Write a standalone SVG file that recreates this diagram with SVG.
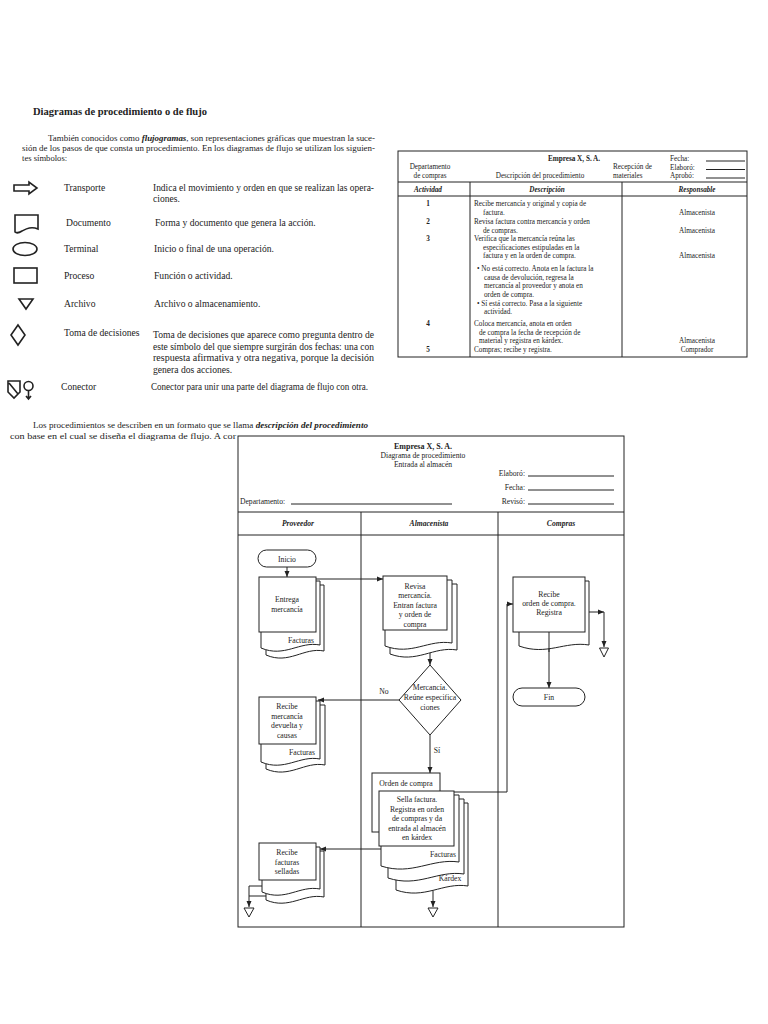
<svg xmlns="http://www.w3.org/2000/svg" width="768" height="1024" viewBox="0 0 768 1024">
<defs>
<style>
text{font-family:"Liberation Serif","DejaVu Serif",serif;fill:#222}
.t{font-size:8.6px}
.l{font-size:9.6px}
.b{font-weight:bold}
.bi{font-weight:bold;font-style:italic}
.tb{font-size:7.2px}
.f{font-size:7.7px}
.h{font-size:7.6px}
.c{text-anchor:middle}
.r{text-anchor:end}
.ln{stroke:#222;stroke-width:1;fill:none}
.sh{stroke:#222;stroke-width:1;fill:#fff}
.sym{stroke:#222;stroke-width:1.6;fill:none}
</style>
<marker id="ah" markerWidth="6" markerHeight="6" refX="6" refY="3" orient="auto" markerUnits="userSpaceOnUse"><path d="M0,0.5 L6,3 L0,5.5 z" fill="#222"/></marker>
</defs>
<rect width="768" height="1024" fill="#fff"/>

<!-- Intro text -->
<g id="intro">
<text x="33" y="115" class="b" font-size="10.5">Diagramas de procedimiento o de flujo</text>
<text x="48" y="141" class="t" textLength="327" lengthAdjust="spacingAndGlyphs">También conocidos como <tspan class="bi">flujogramas</tspan>, son representaciones gráficas que muestran la suce-</text>
<text x="22" y="151" class="t" textLength="353" lengthAdjust="spacingAndGlyphs">sión de los pasos de que consta un procedimiento. En los diagramas de flujo se utilizan los siguien-</text>
<text x="22" y="161" class="t">tes símbolos:</text>
</g>

<!-- Legend -->
<g id="legend-transporte">
<polygon class="sym" points="14,185 29,185 29,182 37,188 29,194 29,191 14,191"/>
<text x="64" y="191" class="l">Transporte</text>
<text x="153" y="191" class="l" textLength="221" lengthAdjust="spacingAndGlyphs">Indica el movimiento y orden en que se realizan las opera-</text>
<text x="153" y="202" class="l">ciones.</text>
</g>
<g id="legend-documento">
<path class="sym" d="M15,215 H38 V229 C31,226 26,229 22,231 C19,233 16,233 15,232 Z"/>
<text x="66" y="226" class="l">Documento</text>
<text x="155" y="226" class="l">Forma y documento que genera la acción.</text>
</g>
<g id="legend-terminal">
<ellipse class="sym" cx="25" cy="249" rx="12" ry="6.5"/>
<text x="64" y="252" class="l">Terminal</text>
<text x="154" y="252" class="l">Inicio o final de una operación.</text>
</g>
<g id="legend-proceso">
<rect class="sym" x="14" y="268" width="23" height="15"/>
<text x="64" y="279" class="l">Proceso</text>
<text x="154" y="279" class="l">Función o actividad.</text>
</g>
<g id="legend-archivo">
<polygon class="sym" points="19,299 33,299 26,309"/>
<text x="64" y="307" class="l">Archivo</text>
<text x="154" y="307" class="l">Archivo o almacenamiento.</text>
</g>
<g id="legend-decision">
<polygon class="sym" points="18,325 25,335 18,345 11,335"/>
<text x="64" y="336" class="l">Toma de decisiones</text>
<text x="153" y="338" class="l" textLength="221" lengthAdjust="spacingAndGlyphs">Toma de decisiones que aparece como pregunta dentro de</text>
<text x="153" y="349.5" class="l" textLength="221" lengthAdjust="spacingAndGlyphs">este símbolo del que siempre surgirán dos fechas: una con</text>
<text x="153" y="361" class="l" textLength="221" lengthAdjust="spacingAndGlyphs">respuesta afirmativa y otra negativa, porque la decisión</text>
<text x="153" y="372.5" class="l">genera dos acciones.</text>
</g>
<g id="legend-conector">
<path class="sym" d="M8,381 H20 V392 L14,398 L8,392 Z M9,383 L18,394"/>
<circle class="sym" cx="28.5" cy="386" r="4.5"/>
<path class="sym" d="M28.5,390.5 V399 M26,396 L28.5,399 L31,396"/>
<text x="61" y="390" class="l">Conector</text>
<text x="151" y="390" class="l" textLength="217" lengthAdjust="spacingAndGlyphs">Conector para unir una parte del diagrama de flujo con otra.</text>
</g>
<g id="outro">
<text x="33" y="428" class="t" textLength="335" lengthAdjust="spacingAndGlyphs">Los procedimientos se describen en un formato que se llama <tspan class="bi">descripción del procedimiento</tspan></text>
<text x="10" y="439" class="t" textLength="226" lengthAdjust="spacingAndGlyphs">con base en el cual se diseña el diagrama de flujo. A cor</text>
</g>

<!-- Description table -->
<g id="tabla">
<rect class="ln" x="398" y="151" width="349" height="206"/>
<line class="ln" x1="398" y1="182" x2="747" y2="182"/>
<line class="ln" x1="398" y1="196" x2="747" y2="196"/>
<line class="ln" x1="470" y1="182" x2="470" y2="357"/>
<line class="ln" x1="622" y1="182" x2="622" y2="357"/>
<text x="430" y="169" class="tb c">Departamento</text>
<text x="430" y="177.5" class="tb c">de compras</text>
<text x="574" y="161" class="tb c b" font-size="7.6px">Empresa X, S. A.</text>
<text x="540" y="178" class="tb c">Descripción del procedimiento</text>
<text x="613" y="169" class="tb">Recepción de</text>
<text x="613" y="178" class="tb">materiales</text>
<text x="670" y="161" class="tb">Fecha:</text>
<text x="670" y="169.5" class="tb">Elaboró:</text>
<text x="670" y="178" class="tb">Aprobó:</text>
<path class="ln" d="M706,161 H745 M706,169.5 H745 M706,178 H745" stroke-width="0.8"/>
<text x="428" y="191.5" class="tb c bi">Actividad</text>
<text x="547" y="191.5" class="tb c bi">Descripción</text>
<text x="697" y="191.5" class="tb c bi">Responsable</text>
<g class="tb">
<text x="428" y="206" class="c b">1</text>
<text x="428" y="224" class="c b">2</text>
<text x="428" y="241" class="c b">3</text>
<text x="428" y="326" class="c b">4</text>
<text x="428" y="351.5" class="c b">5</text>
<text x="474" y="206">Recibe mercancía y original y copia de</text>
<text x="483" y="214.5">factura.</text>
<text x="474" y="224">Revisa factura contra mercancía y orden</text>
<text x="483" y="232.5">de compras.</text>
<text x="474" y="241">Verifica que la mercancía reúna las</text>
<text x="483" y="249.5">especificaciones estipuladas en la</text>
<text x="483" y="258">factura y en la orden de compra.</text>
<text x="477" y="271">• No está correcto. Anota en la factura la</text>
<text x="484" y="279.5">causa de devolución, regresa la</text>
<text x="484" y="288">mercancía al proveedor y anota en</text>
<text x="484" y="296.5">orden de compra.</text>
<text x="477" y="305.5">• Sí está correcto. Pasa a la siguiente</text>
<text x="484" y="314">actividad.</text>
<text x="474" y="326">Coloca mercancía, anota en orden</text>
<text x="479" y="334.5">de compra la fecha de recepción de</text>
<text x="479" y="343">material y registra en kárdex.</text>
<text x="474" y="351.5">Compras; recibe y registra.</text>
<text x="697" y="214.5" class="c">Almacenista</text>
<text x="697" y="232.5" class="c">Almacenista</text>
<text x="697" y="258" class="c">Almacenista</text>
<text x="697" y="343" class="c">Almacenista</text>
<text x="697" y="351.5" class="c">Comprador</text>
</g>
</g>

<!-- Flowchart frame -->
<g id="marco">
<rect x="238" y="436" width="386" height="491" fill="#fff" stroke="#222" stroke-width="1"/>
<line class="ln" x1="238" y1="512" x2="624" y2="512"/>
<line class="ln" x1="238" y1="535" x2="624" y2="535"/>
<line class="ln" x1="361" y1="512" x2="361" y2="927"/>
<line class="ln" x1="498" y1="512" x2="498" y2="927"/>
<text x="423" y="449" class="c b" font-size="8px">Empresa X, S. A.</text>
<text x="423" y="458" class="h c">Diagrama de procedimiento</text>
<text x="423" y="467" class="h c">Entrada al almacén</text>
<text x="525" y="476" class="h r">Elaboró:</text>
<text x="525" y="490" class="h r">Fecha:</text>
<text x="525" y="504" class="h r">Revisó:</text>
<text x="240" y="504" class="h">Departamento:</text>
<path class="ln" d="M528,476 H614 M528,490 H614 M528,504 H614 M291,504 H452" stroke-width="0.8"/>
<text x="298" y="526" class="h c bi">Proveedor</text>
<text x="429" y="526" class="h c bi">Almacenista</text>
<text x="561" y="526" class="h c bi">Compras</text>
</g>

<!-- Connectors -->
<g id="conectores" class="ln">
<line x1="287" y1="567" x2="287" y2="577" marker-end="url(#ah)"/>
<line x1="316" y1="579" x2="383" y2="579" marker-end="url(#ah)"/>
<line x1="430" y1="651" x2="430" y2="665" marker-end="url(#ah)"/>
<line x1="399" y1="700" x2="318" y2="700" marker-end="url(#ah)"/>
<line x1="430" y1="735" x2="430" y2="773" marker-end="url(#ah)"/>
<polyline points="440,792 507,792 507,604 513,604" marker-end="url(#ah)"/>
<line x1="549" y1="632" x2="549" y2="688" marker-end="url(#ah)"/>
<line x1="589" y1="612" x2="604" y2="612" marker-end="url(#ah)"/>
<line x1="604" y1="612" x2="604" y2="647" marker-end="url(#ah)"/>
<line x1="381" y1="849" x2="320" y2="849" marker-end="url(#ah)"/>
<line x1="433" y1="889" x2="433" y2="907" marker-end="url(#ah)"/>
<path d="M266,896 H249 M262,886 H249 V907" marker-end="url(#ah)"/>
</g>
<g id="archivos">
<polygon class="sh" points="599.5,648 608.5,648 604,657"/>
<polygon class="sh" points="428,908 438,908 433,917"/>
<polygon class="sh" points="244,908 254,908 249,917"/>
</g>

<!-- Nodes -->
<g id="inicio">
<rect class="sh" x="258" y="550" width="58" height="17" rx="8.5"/>
<text x="287" y="561.5" class="f c">Inicio</text>
</g>
<g id="entrega">
<path class="sh" d="M266,585 H324 V651 C303.7,647 289.2,665 266,655 Z"/>
<path class="sh" d="M261,581 H320 V645 C299.4,641 284.6,658 261,648 Z"/>
<rect class="sh" x="259" y="577" width="57" height="55"/>
<text x="287" y="602" class="f c">Entrega</text>
<text x="287" y="611.5" class="f c">mercancía</text>
<text x="301" y="643" class="f c">Facturas</text>
</g>
<g id="revisa">
<path class="sh" d="M390,584 H457 V650 C433.5,646 416.8,664 390,654 Z"/>
<path class="sh" d="M385,580 H452 V643 C428.5,639 411.8,656 385,646 Z"/>
<rect class="sh" x="383" y="576" width="64" height="54"/>
<text x="415" y="588.5" class="f c">Revisa</text>
<text x="415" y="598" class="f c">mercancía.</text>
<text x="415" y="607.5" class="f c">Entran factura</text>
<text x="415" y="617" class="f c">y orden de</text>
<text x="415" y="626.5" class="f c">compra</text>
</g>
<g id="decision">
<polygon class="sh" points="430,665 461,700 430,735 399,700"/>
<text x="430" y="690" class="f c">Mercancía.</text>
<text x="430" y="700" class="f c">Reúne especifica</text>
<text x="430" y="710" class="f c">ciones</text>
<text x="384" y="694" class="f c">No</text>
<text x="437" y="753" class="f c">Sí</text>
</g>
<g id="devuelta">
<path class="sh" d="M266,705 H325 V765 C304.4,761 289.6,779 266,769 Z"/>
<path class="sh" d="M261,701 H320 V759 C299.4,755 284.6,772 261,762 Z"/>
<rect class="sh" x="259" y="697" width="57" height="47"/>
<text x="287" y="709" class="f c">Recibe</text>
<text x="287" y="718.5" class="f c">mercancía</text>
<text x="287" y="728" class="f c">devuelta y</text>
<text x="287" y="737.5" class="f c">causas</text>
<text x="302" y="755" class="f c">Facturas</text>
</g>
<g id="orden-compra">
<rect class="sh" x="372" y="773" width="68" height="59"/>
<text x="406" y="786" class="f c">Orden de compra</text>
</g>
<g id="sella">
<path class="sh" d="M396,803 H468 V886 C442.8,882 424.8,900 396,890 Z"/>
<path class="sh" d="M388,799 H464 V874 C437.4,870 418.4,888 388,878 Z"/>
<path class="sh" d="M381,795 H459 V862 C431.7,858 412.2,876 381,866 Z"/>
<rect class="sh" x="379" y="791" width="75" height="55"/>
<text x="417" y="802" class="f c">Sella factura.</text>
<text x="417" y="811.5" class="f c">Registra en orden</text>
<text x="417" y="821" class="f c">de compras y da</text>
<text x="417" y="830.5" class="f c">entrada al almacén</text>
<text x="417" y="840" class="f c">en kárdex</text>
<text x="443" y="857" class="f c">Facturas</text>
<text x="450" y="881" class="f c">Kárdex</text>
</g>
<g id="selladas">
<path class="sh" d="M266,851 H324 V897 C303.7,893 289.2,910 266,900 Z"/>
<path class="sh" d="M262,847 H320 V889 C299.7,885 285.2,902 262,892 Z"/>
<rect class="sh" x="259" y="843" width="57" height="37"/>
<text x="287" y="855" class="f c">Recibe</text>
<text x="287" y="864.5" class="f c">facturas</text>
<text x="287" y="874" class="f c">selladas</text>
</g>
<g id="recibe-orden">
<path class="sh" d="M519,581 H589 V645 C564.5,641 547,656 519,646 Z"/>
<rect class="sh" x="513" y="577" width="72" height="55"/>
<line class="ln" x1="549" y1="632" x2="549" y2="652"/>
<text x="549" y="597" class="f c">Recibe</text>
<text x="549" y="606" class="f c">orden de compra.</text>
<text x="549" y="615" class="f c">Registra</text>
</g>
<g id="fin">
<rect class="sh" x="513" y="688" width="72" height="18" rx="9"/>
<text x="549" y="700" class="f c">Fin</text>
</g>
</svg>
